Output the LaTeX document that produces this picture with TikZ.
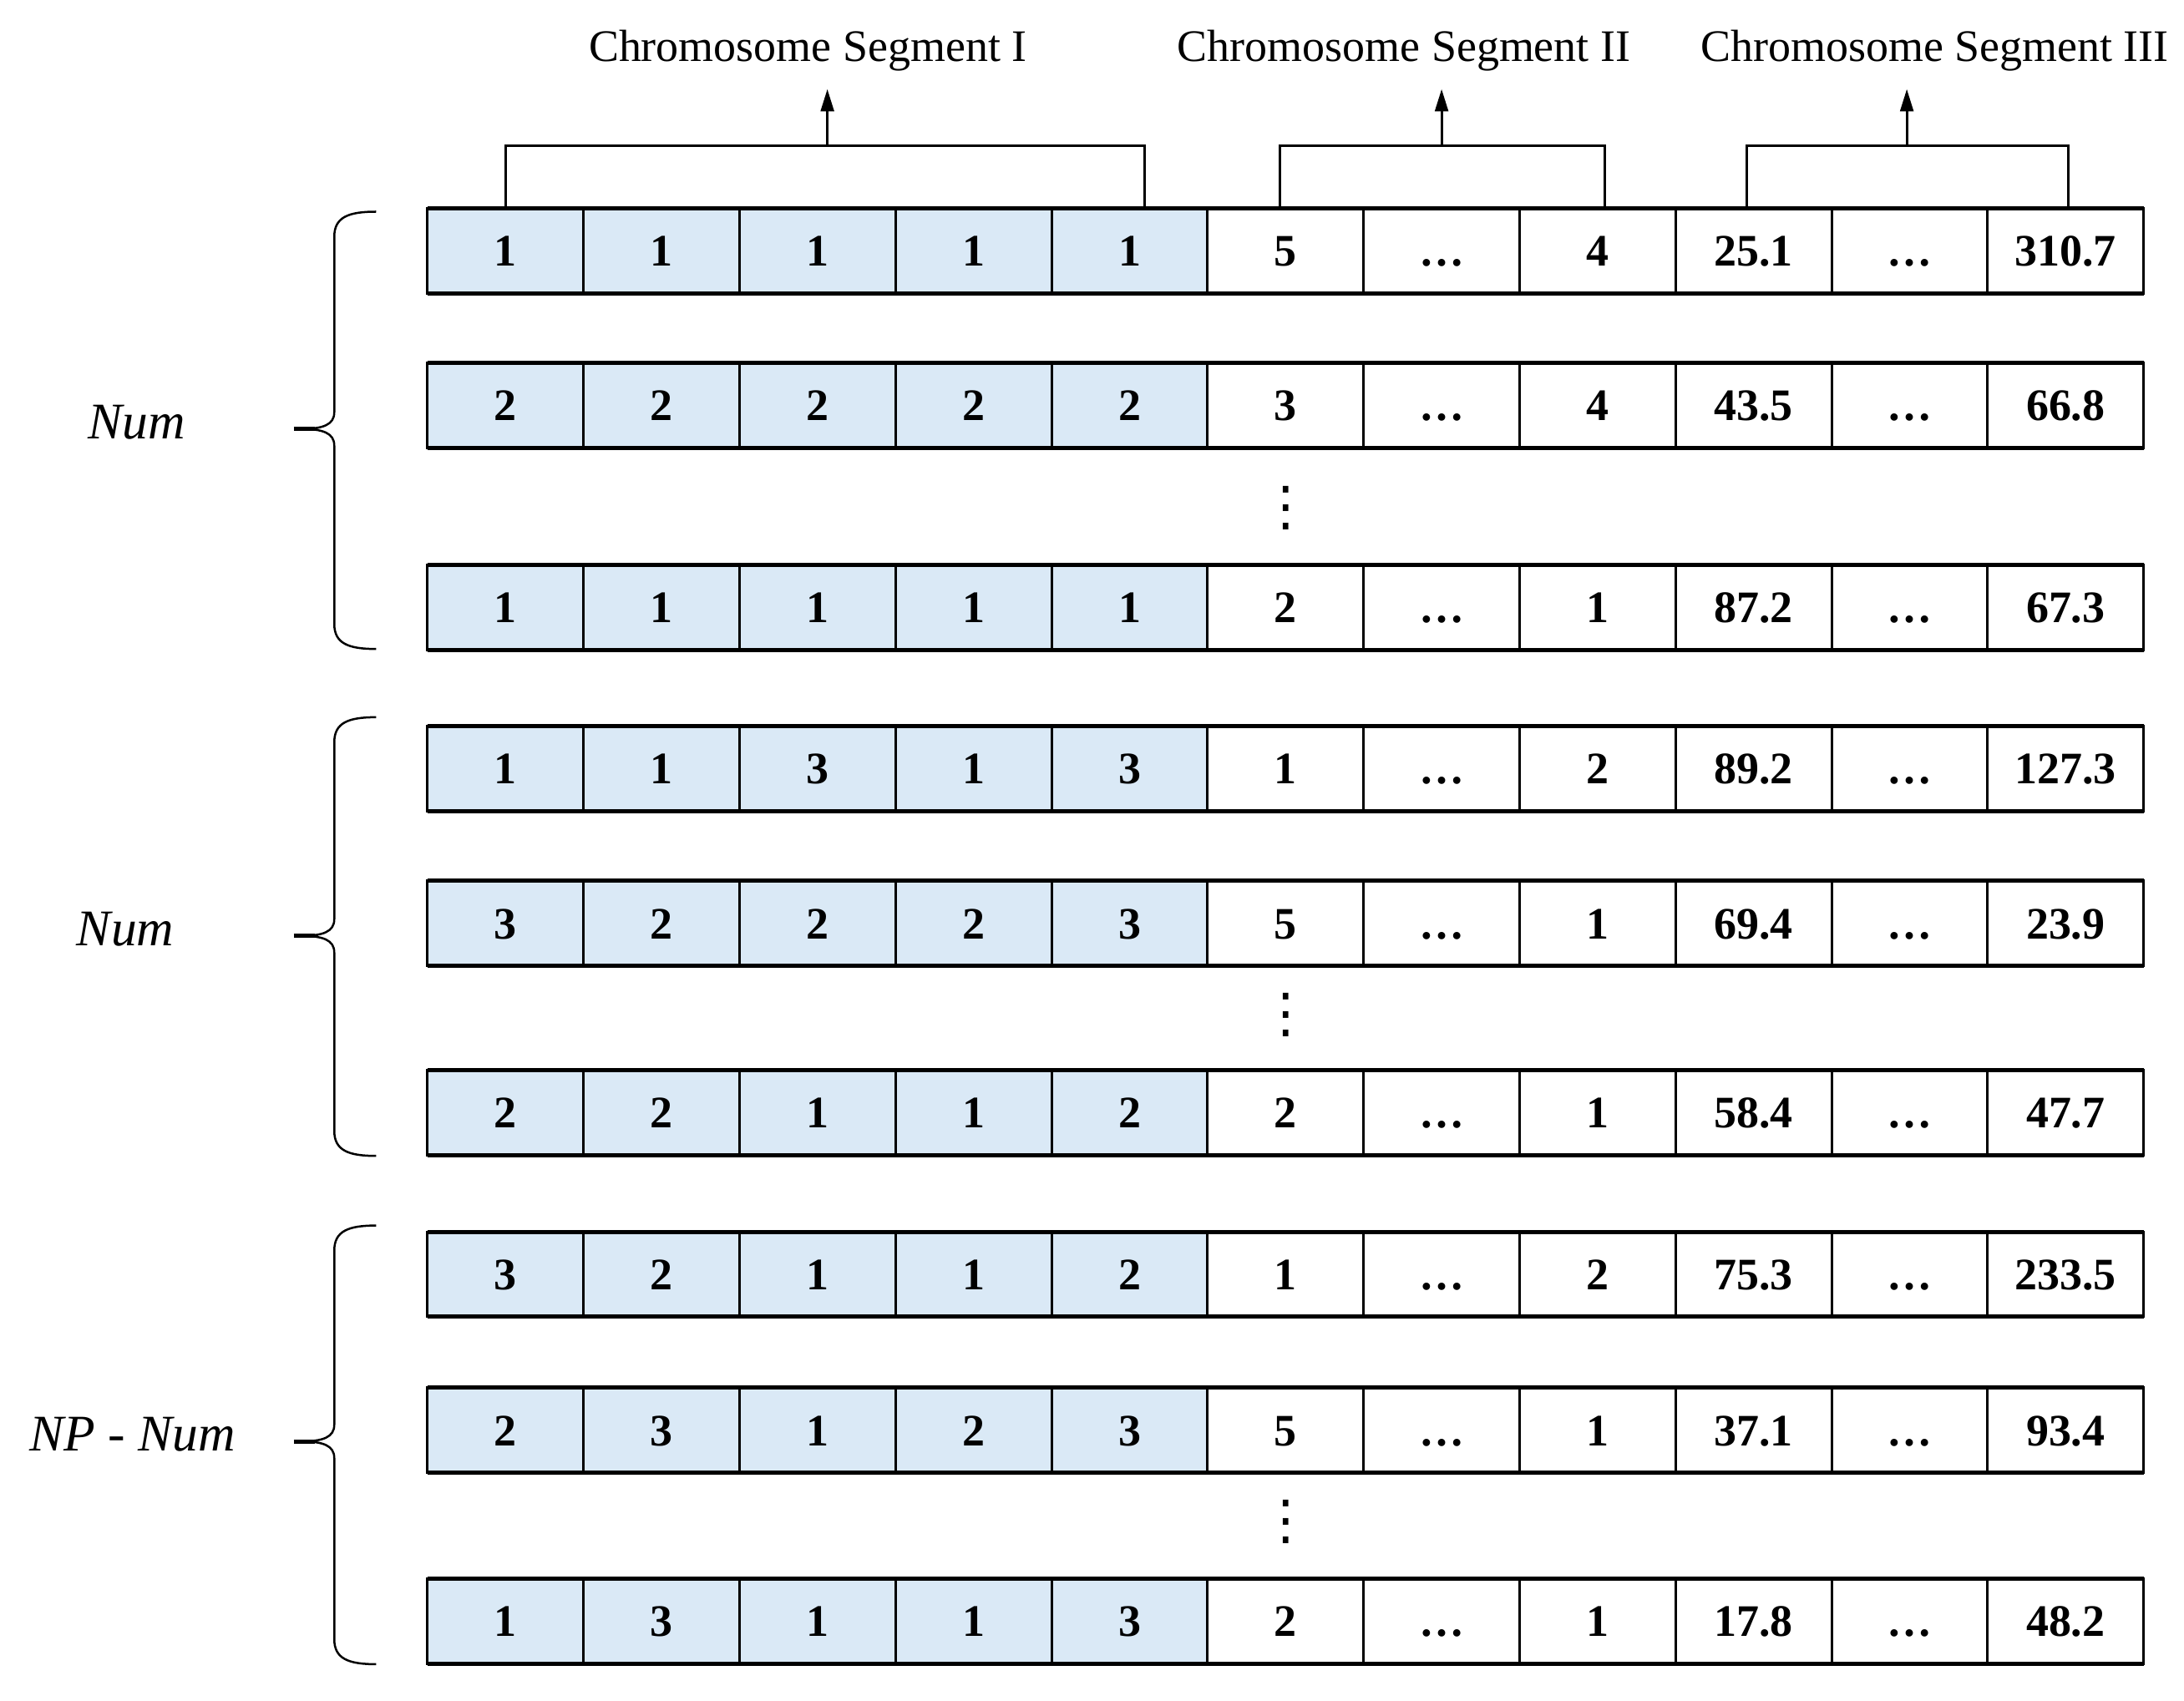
\documentclass[tikz,border=0pt]{standalone}
\usepackage{fontspec}
\setmainfont{Liberation Serif}
\newfontfamily\dotsfont{DejaVu Sans}
\usetikzlibrary{arrows.meta,calc}
\definecolor{cellblue}{RGB}{218,233,246}
\begin{document}
\begin{tikzpicture}[x=0.01cm,y=-0.01cm,
 every node/.style={inner sep=0pt, outer sep=0pt},
 cell/.style={draw=black,line width=0.018cm,minimum width=1.12cm,minimum height=0.61cm,text height=0.22cm,text depth=0cm,font=\fontsize{9.2pt}{11pt}\selectfont\bfseries},
 bcell/.style={cell,fill=cellblue},
 wcell/.style={cell,fill=white},
 rowedge/.style={line width=0.03cm},
 bracketline/.style={line width=0.017cm},
 segarrow/.style={line width=0.017cm,-{Triangle[length=0.16cm,width=0.095cm]}},
 seglabel/.style={font=\fontsize{9.2pt}{11pt}\selectfont,anchor=base},
 grouplabel/.style={font=\fontsize{10.5pt}{12pt}\selectfont\itshape},
 bracestyle/.style={line width=0.015cm},
 vdotnode/.style={font=\fontsize{11pt}{13pt}\dotsfont,anchor=center}]
\useasboundingbox (0,0) rectangle (1568,1221);
\fill[white] (0,0) rectangle (1568,1221);

\foreach \r/\yc/\va/\vb/\vc/\vd/\ve/\vf/\vg/\vh/\vi in {
1/180/1/1/1/1/1/5/4/25.1/310.7,
2/291/2/2/2/2/2/3/4/43.5/66.8,
3/436/1/1/1/1/1/2/1/87.2/67.3,
4/552/1/1/3/1/3/1/2/89.2/127.3,
5/663/3/2/2/2/3/5/1/69.4/23.9,
6/799/2/2/1/1/2/2/1/58.4/47.7,
7/915/3/2/1/1/2/1/2/75.3/233.5,
8/1027/2/3/1/2/3/5/1/37.1/93.4,
9/1164/1/3/1/1/3/2/1/17.8/48.2}{
 \node[bcell] (c\r-1) at (363,\yc) {\va};
 \node[bcell] (c\r-2) at (475,\yc) {\vb};
 \node[bcell] (c\r-3) at (587,\yc) {\vc};
 \node[bcell] (c\r-4) at (699,\yc) {\vd};
 \node[bcell] (c\r-5) at (811,\yc) {\ve};
 \node[wcell] (c\r-6) at (923,\yc) {\vf};
 \node[wcell] (c\r-7) at (1035,\yc) {…};
 \node[wcell] (c\r-8) at (1147,\yc) {\vg};
 \node[wcell] (c\r-9) at (1259,\yc) {\vh};
 \node[wcell] (c\r-10) at (1371,\yc) {…};
 \node[wcell] (c\r-11) at (1483,\yc) {\vi};
 \draw[rowedge] (c\r-1.north west) -- (c\r-11.north east);
 \draw[rowedge] (c\r-1.south west) -- (c\r-11.south east);
}

% vertical ellipses
\node[vdotnode] (v1) at (923,365) {⋮};
\node[vdotnode] (v2) at (923,729) {⋮};
\node[vdotnode] (v3) at (923,1093) {⋮};

% braces
\foreach \T/\M/\B in {152/308/466, 515/672/830, 880/1035/1195}{
 \draw[bracestyle] (270,\T) .. controls (250,\T) and (240,\T+4) .. (240,\T+18) -- (240,\M-12) .. controls (240,\M-3) and (232,\M) .. (216,\M) .. controls (232,\M) and (240,\M+3) .. (240,\M+12) -- (240,\B-18) .. controls (240,\B-4) and (250,\B) .. (270,\B);
 \draw[line width=0.03cm] (211,\M) -- (226,\M);
}

% group labels
\node[grouplabel] (g1) at (98,303) {Num};
\node[grouplabel] (g2) at (90,667) {Num};
\node[grouplabel] (g3) at (95,1030) {NP - Num};

% segment labels
\node[seglabel] (s1) at (580,44) {Chromosome Segment I};
\node[seglabel] (s2) at (1008,44) {Chromosome Segment II};
\node[seglabel] (s3) at (1389,44) {Chromosome Segment III};

\coordinate (t1) at (594,64);
\coordinate (t2) at (1035,64);
\coordinate (t3) at (1369,64);

% brackets
\draw[bracketline] (c1-1.north) -- ++(0,-45) coordinate (b1) -| ([xshift=0.11cm]c1-5.north);
\draw[bracketline] ([xshift=-0.04cm]c1-6.north) -- ++(0,-45) coordinate (b2) -| ([xshift=0.05cm]c1-8.north);
\draw[bracketline] ([xshift=-0.05cm]c1-9.north) -- ++(0,-45) coordinate (b3) -| ([xshift=0.02cm]c1-11.north);
\draw[segarrow] (b1 -| t1) -- (t1);
\draw[segarrow] (b2 -| t2) -- (t2);
\draw[segarrow] (b3 -| t3) -- (t3);
\end{tikzpicture}
\end{document}
